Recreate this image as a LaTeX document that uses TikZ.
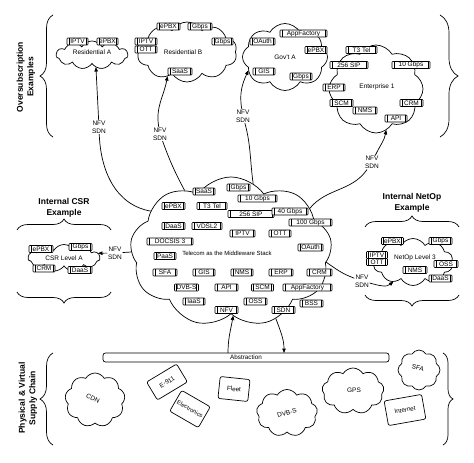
\documentclass[tikz,border=0pt]{standalone}
\usepackage{fontspec}
\setmainfont{Liberation Sans}
\usetikzlibrary{shapes.symbols,arrows.meta,decorations.pathreplacing}
\newcommand\tg[4]{\node[tag,minimum width=#3pt] (#1) at (#2) {#4};}
\begin{document}
\begin{tikzpicture}[x=1pt,y=-1pt,
  line width=0.7pt,
  every node/.style={inner sep=0pt, outer sep=0pt},
  cl/.style={cloud, draw, fill=white, cloud puff arc=120},
  tag/.style={draw, fill=white, rounded corners=0.8pt, line width=0.55pt,
    font=\fontsize{6.5}{7}\selectfont, minimum height=7pt,
    path picture={\draw[line width=0.45pt]
      ([xshift=2pt]path picture bounding box.north west) -- ([xshift=2pt]path picture bounding box.south west)
      ([xshift=-2pt]path picture bounding box.north east) -- ([xshift=-2pt]path picture bounding box.south east);}},
  lbl/.style={font=\fontsize{6.5}{7.5}\selectfont},
  nfv/.style={fill=white, align=center, inner sep=0.8pt, font=\fontsize{6.5}{8}\selectfont},
  arr/.style={-{Triangle[length=4.5pt,width=3.5pt]}},
  ttl/.style={align=center, font=\bfseries\fontsize{8.5}{10.5}\selectfont},
  box/.style={draw, fill=white, rounded corners=2pt, font=\fontsize{6.3}{7}\selectfont},
  br/.style={decorate, decoration={brace, amplitude=#1}},
]
\useasboundingbox (0,0) rectangle (474,463);

% titles
\node[ttl, rotate=90] (tOver) at (26,77) {Oversubscription\\Examples};
\node[ttl, rotate=90] (tPhys) at (28,398) {Physical \& Virtual\\Supply Chain};
\node[ttl] (tCsr) at (64,208) {Internal CSR\\Example};
\node[ttl] (tNet) at (412,203) {Internal NetOp\\Example};

% braces
\draw[br=13pt] (53,137) -- (53,15);
\draw[br=18pt] (440,15) -- (440,137);
\draw[br=13pt] (53,445) -- (53,353);
\draw[br=10pt] (443,353) -- (443,445);
\draw[br=11pt] (17,230) -- (111,230);
\draw[br=11pt] (111,292) -- (17,292);
\draw[br=11pt] (365,227) -- (459,227);
\draw[br=11pt] (459,295) -- (365,295);

% clouds
\node[cl, cloud puffs=11, minimum width=72pt, minimum height=28pt, aspect=2.6] (resA) at (92,55) {};
\node[cl, cloud puffs=10, minimum width=100pt, minimum height=60pt, aspect=1.7] (resB) at (187,52) {};
\node[cl, cloud puffs=8, minimum width=85pt, minimum height=67pt, aspect=1.3] (govA) at (285,57) {};
\node[cl, cloud puffs=8, minimum width=94pt, minimum height=88pt, aspect=1.1] (ent) at (376,89) {};
\node[cl, cloud puffs=9, cloud puff arc=110, minimum width=202pt, minimum height=150pt, aspect=1.35] (mid) at (231,252) {};
\node[cl, cloud puffs=11, minimum width=72pt, minimum height=27pt, aspect=2.7] (csr) at (64,258) {};
\node[cl, cloud puffs=10, minimum width=80pt, minimum height=47pt, aspect=1.7] (net) at (413,262) {};

\node[cl, cloud puffs=9, minimum width=60pt, minimum height=54pt, aspect=1.1] (cdn) at (95,400) {};
\node[cl, cloud puffs=9, minimum width=61pt, minimum height=47pt, aspect=1.3] (dvb) at (287,413) {};
\node[cl, cloud puffs=9, minimum width=62pt, minimum height=46pt, aspect=1.35] (gps) at (353,391) {};
\node[cl, cloud puffs=8, minimum width=42pt, minimum height=40pt, aspect=1.05] (sfa) at (419,370) {};

% cloud labels
\node[lbl] (lResA) at (92,52) {Residential A};
\node[lbl] (lResB) at (183,52) {Residential B};
\node[lbl] (lGov) at (285,57) {Gov't A};
\node[lbl] (lEnt) at (377,87) {Enterprise 1};
\node[lbl, font=\fontsize{6}{7}\selectfont] (lMid) at (227,253) {Telecom as the Middleware Stack};
\node[lbl] (lCsr) at (64,258) {CSR Level A};
\node[lbl] (lNet) at (415,258) {NetOp Level 3};
\node[lbl, rotate=-25] (lCdn) at (93,398) {CDN};
\node[lbl, rotate=15] (lDvb) at (287,413) {DVB-S};
\node[lbl] (lGps) at (354,390) {GPS};
\node[lbl, rotate=-15] (lSfa) at (418,368) {SFA};

% boxes
\node[box, minimum width=35pt, minimum height=21pt, rotate=31] (e911) at (167,382) {E-911};
\node[box, minimum width=33pt, minimum height=24pt, rotate=-30, font=\fontsize{5.9}{7}\selectfont] (elec) at (190,409) {Electronics};
\node[box, minimum width=30pt, minimum height=22pt, rotate=-6] (fleet) at (234,389) {Fleet};
\node[box, minimum width=38pt, minimum height=25pt, rotate=10] (inet) at (405,410) {Internet};
\node[box, rounded corners=2.5pt, minimum width=286pt, minimum height=9pt] (abs) at (246,357.5) {Abstraction};

% NFV / SDN labels
\node[nfv] (n1) at (99,127) {NFV\\SDN};
\node[nfv] (n2) at (160,134) {NFV\\SDN};
\node[nfv] (n3) at (243,116) {NFV\\SDN};
\node[nfv] (n4) at (372,162.5) {NFV\\SDN};
\node[nfv] (n5) at (115,253) {NFV\\SDN};
\node[nfv] (n6) at (362,281) {NFV\\SDN};

% connectors
\draw (mid.153) to[out=170,in=-88] (n1);
\draw[arr] (n1) -- (resA.-72);
\draw (mid.127) to[out=118,in=-70] (n2);
\draw[arr] (n2) to[out=100,in=-100] (resB.-129);
\draw (mid.72) to[out=98,in=-75] (n3);
\draw[arr] (n3) to[out=100,in=-115] (govA.-160);
\draw (mid.29) to[out=50,in=-125] (n4);
\draw[arr] (n4) to[out=65,in=-100] (ent.-76);
\draw (mid.180) -- (n5);
\draw[arr] (n5) -- (csr.8);
\draw (mid.-6) to[out=-35,in=160] (n6);
\draw[arr] (n6) to[out=-15,in=-140] (net.-135);
\draw[arr] (mid.-56) to[out=-70,in=90] ([xshift=38pt]abs.north);
\draw[arr] ([xshift=-18pt]abs.north) to[out=90,in=-100] (mid.-88);

% tags: Residential A
\tg{a1}{77.5,41.5}{21}{IPTV}
\tg{a2}{107.5,41.5}{21}{ePBX}
% Residential B
\tg{b1}{168.5,26.5}{23}{ePBX}
\tg{b2}{200,26.5}{24}{Gbps}
\tg{b3}{146,41.5}{22}{IPTV}
\tg{b4}{146,49.5}{22}{OTT}
\tg{b5}{222.5,41.5}{21}{Gbps}
\tg{b6}{180,71.5}{24}{SaaS}
% Gov't A
\tg{g1}{262.5,41.5}{25}{OAuth}
\tg{g2}{303.5,33.5}{47}{AppFactory}
\tg{g3}{316,50}{22}{ePBX}
\tg{g4}{264,71.5}{22}{GIS}
\tg{g5}{301,76.5}{22}{Gbps}
% Enterprise 1
\tg{e1}{361.5,50}{31}{T3 Tel}
\tg{e2}{349,65}{38}{256 SIP}
\tg{e3}{411,65}{38}{10 Gbps}
\tg{e4}{334,87.5}{22}{ERP}
\tg{e5}{341.5,103}{23}{SCM}
\tg{e6}{365,110.5}{24}{NMS}
\tg{e7}{411.5,103}{23}{CRM}
\tg{e8}{396,118.5}{22}{API}
% central
\tg{m1}{204,191.5}{22}{SaaS}
\tg{m2}{238.5,187.5}{23}{Gbps}
\tg{m3}{257.5,198.5}{39}{10 Gbps}
\tg{m4}{173.5,206}{23}{ePBX}
\tg{m5}{212,206}{30}{T3 Tel}
\tg{m6}{251,214}{46}{256 SIP}
\tg{m7}{290,211.5}{36}{40 Gbps}
\tg{m8}{310.5,222.5}{43}{100 Gbps}
\tg{m9}{173.5,226}{23}{DaaS}
\tg{m10}{207,226}{30}{VDSL2}
\tg{m11}{170,241.5}{46}{DOCSIS 3}
\tg{m12}{242.5,233.5}{25}{IPTV}
\tg{m13}{280,233.5}{22}{OTT}
\tg{m14}{310.5,247.5}{25}{OAuth}
\tg{m15}{165,256}{22}{PaaS}
\tg{m16}{165,272.5}{24}{SFA}
\tg{m17}{204,272.5}{22}{GIS}
\tg{m18}{242,272.5}{22}{NMS}
\tg{m19}{281,272.5}{24}{ERP}
\tg{m20}{319.5,272.5}{25}{CRM}
\tg{m21}{186.5,287.5}{24}{DVB-S}
\tg{m22}{226.5,287.5}{23}{API}
\tg{m23}{262.5,287.5}{22}{SCM}
\tg{m24}{307.5,287.5}{49}{AppFactory}
\tg{m25}{194,301.5}{22}{IaaS}
\tg{m26}{255.5,301.5}{23}{OSS}
\tg{m27}{311.5,303.5}{23}{BSS}
\tg{m28}{226.5,310}{23}{NFV}
\tg{m29}{283.5,310}{23}{SDN}
% CSR
\tg{c1}{41,249}{24}{ePBX}
\tg{c2}{80.5,247}{23}{Gbps}
\tg{c3}{44,268.5}{22}{CRM}
\tg{c4}{80,270}{24}{DaaS}
% NetOp
\tg{o1}{392.5,241}{22}{ePBX}
\tg{o2}{440.5,241}{23}{Gbps}
\tg{o3}{377,255}{21}{IPTV}
\tg{o4}{377,262}{21}{OTT}
\tg{o5}{415,270}{24}{NMS}
\tg{o6}{446,264}{24}{OSS}
\tg{o7}{440.5,278.5}{23}{DaaS}
\end{tikzpicture}
\end{document}
